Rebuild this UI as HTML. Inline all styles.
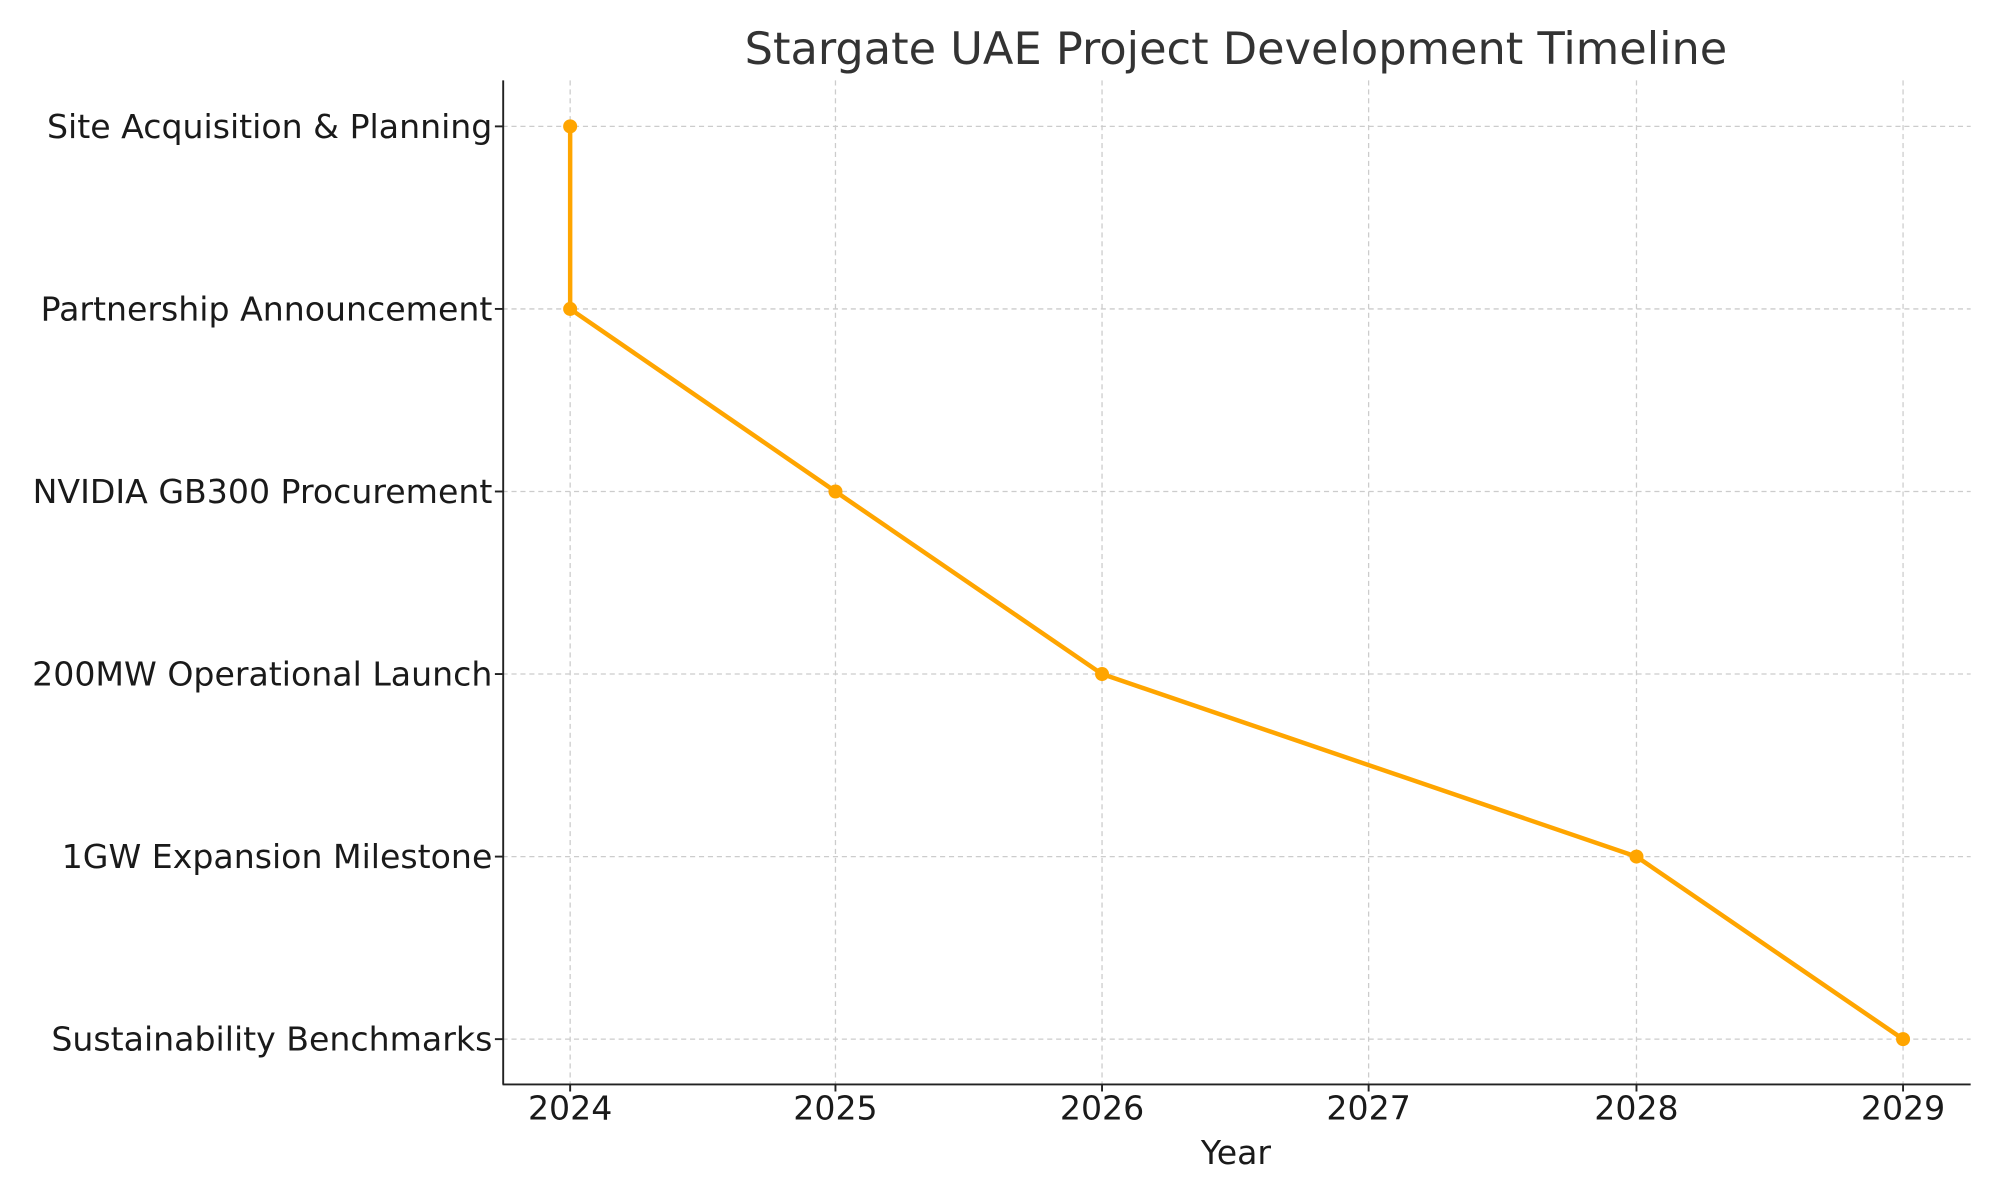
<!DOCTYPE html>
<html><head><meta charset="utf-8"><style>
html,body{margin:0;padding:0;background:#fff;}
svg{display:block;}
text{font-family:"DejaVu Sans","Liberation Sans",sans-serif;fill:#1a1a1a;}
</style></head><body>
<svg width="2000" height="1200" viewBox="0 0 1568 940" preserveAspectRatio="none" xmlns="http://www.w3.org/2000/svg">
<rect width="1568" height="940" fill="#fff"/>
<g stroke="#cccccc" stroke-width="1" stroke-dasharray="4,3">
<line x1="447" y1="63" x2="447" y2="849"/>
<line x1="655" y1="63" x2="655" y2="849"/>
<line x1="864" y1="63" x2="864" y2="849"/>
<line x1="1073" y1="63" x2="1073" y2="849"/>
<line x1="1283" y1="63" x2="1283" y2="849"/>
<line x1="1492" y1="63" x2="1492" y2="849"/>
<line x1="394" y1="99" x2="1545" y2="99"/>
<line x1="394" y1="242" x2="1545" y2="242"/>
<line x1="394" y1="385" x2="1545" y2="385"/>
<line x1="394" y1="528" x2="1545" y2="528"/>
<line x1="394" y1="671" x2="1545" y2="671"/>
<line x1="394" y1="814" x2="1545" y2="814"/>
</g>
<g stroke="#222" stroke-width="1.5">
<line x1="394.5" y1="63" x2="394.5" y2="849.5"/>
<line x1="394" y1="849.5" x2="1545" y2="849.5"/>
<line x1="447" y1="849" x2="447" y2="855"/>
<line x1="655" y1="849" x2="655" y2="855"/>
<line x1="864" y1="849" x2="864" y2="855"/>
<line x1="1073" y1="849" x2="1073" y2="855"/>
<line x1="1283" y1="849" x2="1283" y2="855"/>
<line x1="1492" y1="849" x2="1492" y2="855"/>
<line x1="388" y1="99" x2="394" y2="99"/>
<line x1="388" y1="242" x2="394" y2="242"/>
<line x1="388" y1="385" x2="394" y2="385"/>
<line x1="388" y1="528" x2="394" y2="528"/>
<line x1="388" y1="671" x2="394" y2="671"/>
<line x1="388" y1="814" x2="394" y2="814"/>
</g>
<polyline points="447,99 447,242 655,385 864,528 1283,671 1492,814" fill="none" stroke="#FFA500" stroke-width="3.5" stroke-linejoin="round"/>
<g fill="#FFA500">
<circle cx="447" cy="99" r="5.5"/><circle cx="447" cy="242" r="5.5"/><circle cx="655" cy="385" r="5.5"/>
<circle cx="864" cy="528" r="5.5"/><circle cx="1283" cy="671" r="5.5"/><circle cx="1492" cy="814" r="5.5"/>
</g>
<g font-size="26" text-anchor="end">
<text x="386" y="108">Site Acquisition &amp; Planning</text>
<text x="386" y="251">Partnership Announcement</text>
<text x="386" y="394">NVIDIA GB300 Procurement</text>
<text x="386" y="537">200MW Operational Launch</text>
<text x="386" y="680">1GW Expansion Milestone</text>
<text x="386" y="823">Sustainability Benchmarks</text>
</g>
<g font-size="26" text-anchor="middle">
<text x="447" y="877">2024</text>
<text x="655" y="877">2025</text>
<text x="864" y="877">2026</text>
<text x="1073" y="877">2027</text>
<text x="1283" y="877">2028</text>
<text x="1492" y="877">2029</text>
<text x="969" y="912">Year</text>
</g>
<text x="969" y="50" font-size="35" text-anchor="middle" style="fill:#333">Stargate UAE Project Development Timeline</text>
</svg>
</body></html>
